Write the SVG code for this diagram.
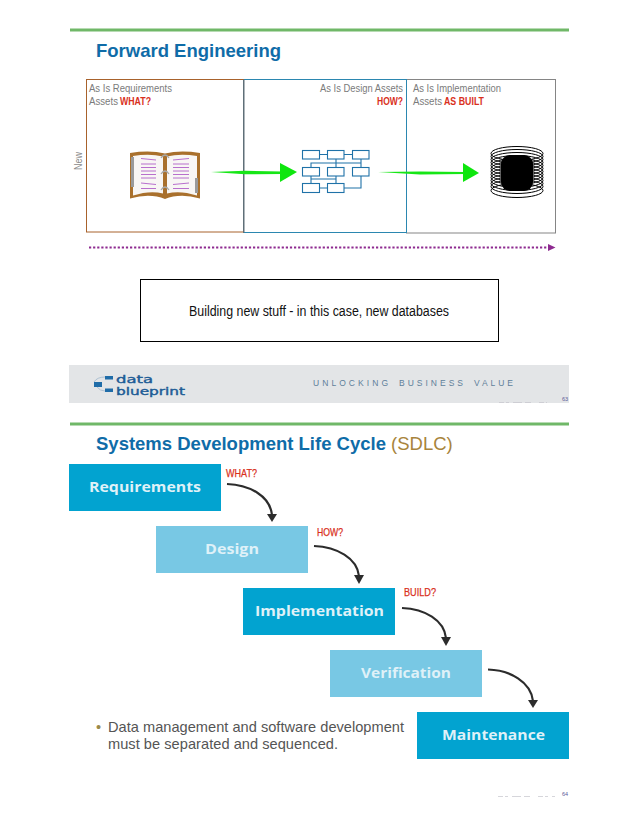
<svg xmlns="http://www.w3.org/2000/svg" width="638" height="826" viewBox="0 0 638 826">
<style>
text{font-family:"Liberation Sans",Arial,sans-serif}
.rule{fill:#70b868}
.title{font-size:18.500px;font-weight:700;fill:#0f6ca8}
.lab{font-size:10.500px;fill:#7b7b7b}
.red{font-size:10.500px;font-weight:700;fill:#d9301c}
.red2{font-size:11px;fill:#d9301c;stroke:#d9301c;stroke-width:.25}
.st{font-size:14.500px;font-weight:700;fill:#dff1f8;text-anchor:middle;font-family:"Open Sans","Liberation Sans",sans-serif}
.dk{fill:#02a3d0}
.lt{fill:#78c8e4}
.cur{fill:none;stroke:#2c2c2c;stroke-width:2.200}
.head{fill:#2c2c2c}
.d{fill:#fff;stroke:#1f72a8;stroke-width:1.100}
.dl{fill:none;stroke:#1f72a8;stroke-width:1.100}
.pl{stroke:#b060c8;stroke-width:.9;fill:none}
.ring{fill:none;stroke:#000;stroke-width:1}
.num{font-size:5.500px;fill:#5a5a98}
.fine{stroke:#c4c4cc;stroke-width:.7;stroke-dasharray:5 2 3 4 9 3 6 8;fill:none}
.tag{font-size:8.500px;fill:#5f7f9a}
.logo{font-family:"DejaVu Sans",sans-serif;font-size:11px;fill:#1d5c96;stroke:#1d5c96;stroke-width:.4}
.gr{fill:#16e616}
</style>
<rect width="638" height="826" fill="#fff"/>
<rect class="rule" x="70" y="28.500" width="499" height="3"/>
<text class="title" x="96" y="57">Forward Engineering</text>
<g id="frames">
<rect x="406.500" y="79.500" width="149" height="153.500" fill="none" stroke="#858585" stroke-width="1"/>
<rect x="243.500" y="79.500" width="163" height="153" fill="none" stroke="#2b87b0" stroke-width="1"/>
<rect x="86.500" y="79.500" width="157" height="152.500" fill="none" stroke="#a8622c" stroke-width="1"/>
<rect x="243" y="79.500" width="1.500" height="153" fill="#5f6f78"/>
</g>
<g id="req-label">
<text class="lab" x="89" y="92" textLength="83" lengthAdjust="spacingAndGlyphs">As Is Requirements</text>
<text class="lab" x="89" y="105" textLength="29" lengthAdjust="spacingAndGlyphs">Assets</text>
<text class="red" x="120" y="105" textLength="31" lengthAdjust="spacingAndGlyphs">WHAT?</text>
</g>
<g id="design-label">
<text class="lab" x="320" y="92" textLength="83" lengthAdjust="spacingAndGlyphs">As Is Design Assets</text>
<text class="red" x="377" y="105" textLength="26" lengthAdjust="spacingAndGlyphs">HOW?</text>
</g>
<g id="impl-label">
<text class="lab" x="413" y="92" textLength="88" lengthAdjust="spacingAndGlyphs">As Is Implementation</text>
<text class="lab" x="413" y="105" textLength="29" lengthAdjust="spacingAndGlyphs">Assets</text>
<text class="red" x="444" y="105" textLength="40" lengthAdjust="spacingAndGlyphs">AS BUILT</text>
</g>
<text x="82" y="170" transform="rotate(-90 82 170)" font-size="11" fill="#8a8a8a" textLength="18" lengthAdjust="spacingAndGlyphs">New</text>
<g id="book">
<path d="M130 153Q150 150 165 153.500Q180 150 200 153V198.500Q180 193 165 199Q150 193 130 198.500Z" fill="#a9702c"/>
<path d="M133 156Q150 153.500 163 156.500V193.500Q150 190 133 195.500Z" fill="#f8f6f4"/>
<path d="M167 156.500Q180 153.500 197 156V195.500Q180 190 167 193.500Z" fill="#f8f6f4"/>
<rect x="131" y="157" width="3" height="30" fill="#9a9a9a"/>
<rect x="195" y="178" width="3" height="15" fill="#9a9a9a"/>
<path class="pl" d="M141 158.500L156 160M141 164H156M141 167.500H156M141 171H156M141 174.500H156M141 178H156M141 183L156 184.500M141 188.500H156M173 160L189 158.500M173 164H189M173 167.500H189M173 171H189M173 174.500H189M173 178H189M173 184.500L189 183M173 188.500H189"/>
<path d="M161 158Q165 152 169 158M161 174Q165 168 169 174M161 190Q165 184 169 190" fill="none" stroke="#a8a8a8" stroke-width="1.300"/>
</g>
<g id="arrow-a">
<path class="gr" d="M211 172L245 170.800L282 171.500V174L245 174.300Z"/>
<path d="M280 163L297 172L280 182Z" fill="#0ee60e"/>
</g>
<g id="model">
<path class="dl" d="M319 154.500H327M344 154.500H352M336 159V167M311 167V163H361M361 159V167M311 176V183M311 179H336V183M336 176V179M361 176V188H344M319 188H327"/>
<rect class="d" x="302.500" y="150.500" width="17" height="8.500"/>
<rect class="d" x="327.500" y="150.500" width="16.500" height="8.500"/>
<rect class="d" x="352.500" y="150.500" width="16.500" height="8.500"/>
<rect class="d" x="302.500" y="167.500" width="17" height="8.500"/>
<rect class="d" x="327.500" y="167.500" width="16.500" height="8.500"/>
<rect class="d" x="352.500" y="167.500" width="16.500" height="8.500"/>
<rect class="d" x="302.500" y="183.500" width="17" height="9"/>
<rect class="d" x="327.500" y="183.500" width="16.500" height="9"/>
</g>
<g id="arrow-b">
<path class="gr" d="M378 172L420 171.500L465 172V174L420 174.500Z"/>
<path d="M463 163L479 173L463 182Z" fill="#0ee60e"/>
</g>
<g id="database">
<ellipse class="ring" cx="517" cy="153.500" rx="26" ry="7"/>
<ellipse class="ring" cx="517" cy="156.500" rx="26" ry="7"/>
<ellipse class="ring" cx="517" cy="159.500" rx="26" ry="7"/>
<ellipse class="ring" cx="517" cy="162.500" rx="26" ry="7"/>
<ellipse class="ring" cx="517" cy="165.500" rx="26" ry="7"/>
<ellipse class="ring" cx="517" cy="168.500" rx="26" ry="7"/>
<ellipse class="ring" cx="517" cy="171.500" rx="26" ry="7"/>
<ellipse class="ring" cx="517" cy="174.500" rx="26" ry="7"/>
<ellipse class="ring" cx="517" cy="177.500" rx="26" ry="7"/>
<ellipse class="ring" cx="517" cy="180.500" rx="26" ry="7"/>
<ellipse class="ring" cx="517" cy="183.500" rx="26" ry="7"/>
<ellipse class="ring" cx="517" cy="186.500" rx="26" ry="7"/>
<ellipse class="ring" cx="517" cy="190.500" rx="26" ry="7"/>
<rect x="501" y="155" width="32" height="36" rx="9" fill="#000"/>
</g>
<g id="timeline">
<path d="M89 247.500H549" stroke="#8e2a90" stroke-width="2.200" stroke-dasharray="2.200 1.900" fill="none"/>
<path d="M548 244L555.500 247.500L548 251Z" fill="#8e2a90"/>
</g>
<g id="note">
<rect x="140.500" y="279.500" width="358" height="62" fill="#fff" stroke="#000" stroke-width="1"/>
<text x="189" y="316" font-size="14" fill="#111" textLength="260" lengthAdjust="spacingAndGlyphs">Building new stuff - in this case, new databases</text>
</g>
<g id="footer">
<rect x="69" y="365" width="500" height="38" fill="#e3e5e7"/>
<path d="M94 382Q97 377 105 377M97 387Q100 391 105 391" fill="none" stroke="#8aa8c4" stroke-width=".6"/>
<rect x="105" y="376" width="8" height="3.500" fill="#1f6ca8"/>
<rect x="94" y="382" width="8" height="5" fill="#1f6ca8"/>
<rect x="105" y="388.500" width="8" height="3.500" fill="#1f6ca8"/>
<text class="logo" x="116" y="383" textLength="37" lengthAdjust="spacingAndGlyphs">data</text>
<text class="logo" x="116" y="395" textLength="69" lengthAdjust="spacingAndGlyphs">blueprint</text>
<text class="tag" x="313" y="386" textLength="75">UNLOCKING</text>
<text class="tag" x="399" y="386" textLength="64">BUSINESS</text>
<text class="tag" x="474" y="386" textLength="39">VALUE</text>
<path class="fine" d="M499 402.500H547"/>
<text class="num" x="562" y="401">63</text>
</g>
<rect class="rule" x="70" y="422.500" width="499" height="3"/>
<text x="96" y="450" class="title">Systems Development Life Cycle <tspan font-weight="400" fill="#a8843c">(SDLC)</tspan></text>
<g id="connectors">
<path class="cur" d="M227 484C250 485 270 496 272 515"/><path class="head" d="M267 514H277L272 522Z"/>
<path class="cur" d="M314 546C337 547 357 558 359 576"/><path class="head" d="M354 575H364L359 584Z"/>
<path class="cur" d="M402 608C425 609 444 620 446 638"/><path class="head" d="M441 637H451L446 646Z"/>
<path class="cur" d="M488 669.500C510 670 531 682 533 701"/><path class="head" d="M528 700H538L533 708Z"/>
</g>
<g id="requirements"><rect class="dk" x="69" y="464" width="152" height="47"/><text class="st" x="145" y="491.500" textLength="112" lengthAdjust="spacingAndGlyphs">Requirements</text></g>
<g id="design"><rect class="lt" x="156" y="526" width="152" height="47"/><text class="st" x="232" y="553.500" textLength="54" lengthAdjust="spacingAndGlyphs">Design</text></g>
<g id="implementation"><rect class="dk" x="243" y="588" width="152" height="47"/><text class="st" x="319.500" y="615.500" textLength="129" lengthAdjust="spacingAndGlyphs">Implementation</text></g>
<g id="verification"><rect class="lt" x="330" y="650" width="152" height="47"/><text class="st" x="406" y="677.500" textLength="90" lengthAdjust="spacingAndGlyphs">Verification</text></g>
<g id="maintenance"><rect class="dk" x="417" y="712" width="152" height="47"/><text class="st" x="493.500" y="739.500" textLength="103" lengthAdjust="spacingAndGlyphs">Maintenance</text></g>
<text class="red2" x="226" y="477" textLength="31" lengthAdjust="spacingAndGlyphs">WHAT?</text>
<text class="red2" x="317" y="536" textLength="26" lengthAdjust="spacingAndGlyphs">HOW?</text>
<text class="red2" x="404" y="596" textLength="32" lengthAdjust="spacingAndGlyphs">BUILD?</text>
<g id="bullet" font-size="14.600" fill="#555">
<text x="96" y="732" fill="#9a8a4a">•</text>
<text x="108" y="732" textLength="296">Data management and software development</text>
<text x="108" y="749" textLength="230">must be separated and sequenced.</text>
</g>
<path class="fine" d="M498 796.500H555"/>
<text class="num" x="562" y="796">64</text>
</svg>
